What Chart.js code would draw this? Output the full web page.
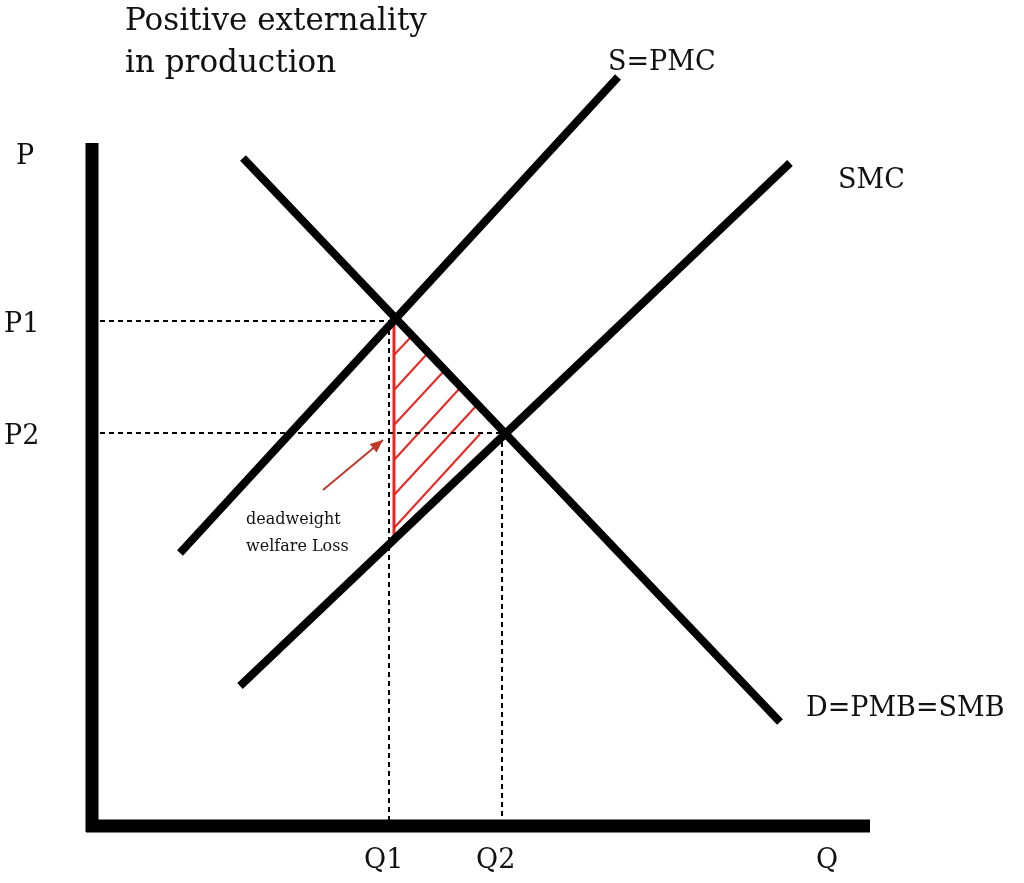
<!DOCTYPE html>
<html><head><meta charset="utf-8">
<script src="https://cdn.jsdelivr.net/npm/chart.js@4/dist/chart.umd.min.js"></script>
<style>html,body{margin:0;padding:0;background:#fff}canvas{display:block}</style>
</head><body>
<canvas id="c" width="1024" height="883"></canvas>
<script>
// Diagram coordinates (x to the right, y downward, in the diagram's own units)
const axisY = [{x:92,y:143},{x:92,y:832}];
const axisX = [{x:86,y:826},{x:870,y:826}];
const supplyPMC = [{x:180,y:553},{x:618,y:77}];
const supplySMC = [{x:240,y:686},{x:790,y:163}];
const demand = [{x:243,y:158},{x:780,y:722}];
const p1Line = [{x:100,y:321},{x:394,y:321}];
const p2Line = [{x:100,y:433},{x:505,y:433}];
const q1Line = [{x:389,y:321},{x:389,y:826}];
const q2Line = [{x:502,y:433},{x:502,y:826}];
const dwlEdge = [{x:394,y:325},{x:394,y:540}];
const hatches = [
  [{x:394,y:355},{x:410,y:338}],
  [{x:394,y:390},{x:427,y:354}],
  [{x:394,y:425},{x:444,y:371}],
  [{x:394,y:460},{x:460,y:388}],
  [{x:394,y:495},{x:477,y:405}],
  [{x:394,y:528},{x:480,y:434}]
];
const arrow = [{x:323,y:490},{x:383,y:440}];
const labels = [
  {t:"Positive externality", x:125, y:30, s:31},
  {t:"in production", x:125, y:72, s:31},
  {t:"S=PMC", x:608, y:70, s:27},
  {t:"SMC", x:838, y:188, s:27},
  {t:"D=PMB=SMB", x:806, y:716, s:27},
  {t:"P", x:16, y:164, s:27},
  {t:"P1", x:4, y:332, s:27},
  {t:"P2", x:4, y:444, s:27},
  {t:"Q1", x:364, y:868, s:27},
  {t:"Q2", x:476, y:868, s:27},
  {t:"Q", x:816, y:868, s:27},
  {t:"deadweight", x:246, y:524, s:16},
  {t:"welfare Loss", x:246, y:551, s:16}
];

function ds(data, color, width, dash){
  return {data, showLine:true, borderColor:color, borderWidth:width, borderDash:dash||[],
    pointRadius:0, fill:false, borderCapStyle:'butt', tension:0};
}
const datasets = [
  ds(p1Line,'#000',2,[5,4]), ds(p2Line,'#000',2,[5,4]),
  ds(q1Line,'#000',2,[5,4]), ds(q2Line,'#000',2,[5,4]),
  ds(supplyPMC,'#000',8), ds(supplySMC,'#000',8), ds(demand,'#000',8),
  ds(axisY,'#000',13), ds(axisX,'#000',13),
  ds(dwlEdge,'#e8261f',3),
  ...hatches.map(h=>ds(h,'#e8261f',2)),
  ds(arrow,'#c0392b',2)
];

const textPlugin = {
  id:'texts',
  afterDatasetsDraw(chart){
    const {ctx, scales:{x,y}} = chart;
    ctx.save();
    ctx.fillStyle='#111';
    ctx.textBaseline='alphabetic';
    labels.forEach(l=>{
      ctx.font = l.s+'px "DejaVu Serif", "Liberation Serif", serif';
      ctx.fillText(l.t, x.getPixelForValue(l.x), y.getPixelForValue(l.y));
    });
    const a=arrow[0], b=arrow[1];
    const bx=x.getPixelForValue(b.x), by=y.getPixelForValue(b.y);
    const ang=Math.atan2(by-y.getPixelForValue(a.y), bx-x.getPixelForValue(a.x));
    ctx.fillStyle='#c0392b';
    ctx.beginPath();
    ctx.moveTo(bx,by);
    ctx.lineTo(bx-14*Math.cos(ang-0.4), by-14*Math.sin(ang-0.4));
    ctx.lineTo(bx-14*Math.cos(ang+0.4), by-14*Math.sin(ang+0.4));
    ctx.closePath(); ctx.fill();
    ctx.restore();
  }
};

new Chart(document.getElementById('c'), {
  type:'scatter',
  data:{datasets},
  options:{
    responsive:false, animation:false,
    layout:{padding:0},
    plugins:{legend:{display:false}, tooltip:{enabled:false}},
    scales:{
      x:{type:'linear', min:0, max:1024, display:false},
      y:{type:'linear', min:0, max:883, reverse:true, display:false}
    }
  },
  plugins:[textPlugin]
});
</script>
</body></html>
